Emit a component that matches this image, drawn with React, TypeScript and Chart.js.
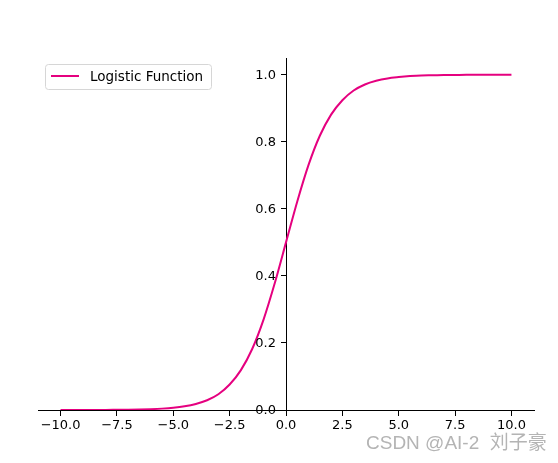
import React, { useEffect, useRef } from "react";
import { Chart, registerables } from "chart.js";

Chart.register(...registerables);

const xValues = [
  -10, -9.5, -9, -8.5, -8, -7.5, -7, -6.5, -6, -5.5, -5, -4.5, -4, -3.5, -3, -2.5, -2, -1.5, -1, -0.5,
  0, 0.5, 1, 1.5, 2, 2.5, 3, 3.5, 4, 4.5, 5, 5.5, 6, 6.5, 7, 7.5, 8, 8.5, 9, 9.5, 10,
];
const yValues = [
  0.0, 0.0001, 0.0001, 0.0002, 0.0003, 0.0006, 0.0009, 0.0015, 0.0025, 0.0041, 0.0067, 0.011, 0.018,
  0.029, 0.047, 0.076, 0.119, 0.182, 0.269, 0.378, 0.5, 0.622, 0.731, 0.818, 0.881, 0.924, 0.953,
  0.971, 0.982, 0.989, 0.993, 0.996, 0.998, 0.9985, 0.9991, 0.9994, 0.9997, 0.9998, 0.9999, 0.9999,
  1.0,
];
const xTickValues = [-10, -7.5, -5, -2.5, 0, 2.5, 5, 7.5, 10];
const yTickValues = [0, 0.2, 0.4, 0.6, 0.8, 1.0];
const seriesLabel = "Logistic Function";
const watermark = "CSDN @AI-2  刘子豪";

const LINE_COLOR = "#e5007f";
const FONT = "'DejaVu Sans', sans-serif";

const fmt = (v: number) => v.toFixed(1).replace("-", "\u2212");

const yLabels = {
  id: "yLabels",
  afterDraw(chart: any) {
    const ctx = chart.ctx;
    const ys = chart.scales.y;
    const xs = chart.scales.x;
    const x0 = xs.getPixelForValue(0) - 5 - 5;
    ctx.save();
    ctx.fillStyle = "#000";
    ctx.font = `13px ${FONT}`;
    ctx.textAlign = "right";
    ctx.textBaseline = "middle";
    ys.ticks.forEach((t: any) => {
      ctx.fillText(fmt(t.value), x0, ys.getPixelForValue(t.value) + 0.5);
    });
    ctx.restore();
  },
};

const boxLegend = {
  id: "boxLegend",
  afterDraw(chart: any) {
    const ctx = chart.ctx;
    const area = chart.chartArea;
    const ds = chart.data.datasets[0];
    const x = area.left + 7.5;
    const y = area.top + 6.5;
    const w = 166;
    const h = 25;
    const r = 3;
    ctx.save();
    ctx.beginPath();
    ctx.moveTo(x + r, y);
    ctx.lineTo(x + w - r, y);
    ctx.arcTo(x + w, y, x + w, y + r, r);
    ctx.lineTo(x + w, y + h - r);
    ctx.arcTo(x + w, y + h, x + w - r, y + h, r);
    ctx.lineTo(x + r, y + h);
    ctx.arcTo(x, y + h, x, y + h - r, r);
    ctx.lineTo(x, y + r);
    ctx.arcTo(x, y, x + r, y, r);
    ctx.closePath();
    ctx.fillStyle = "rgba(255,255,255,0.8)";
    ctx.fill();
    ctx.strokeStyle = "#d6d6d6";
    ctx.lineWidth = 1;
    ctx.stroke();
    ctx.beginPath();
    ctx.moveTo(x + 5.5, y + 11.5);
    ctx.lineTo(x + 33.5, y + 11.5);
    ctx.strokeStyle = ds.borderColor;
    ctx.lineWidth = 2;
    ctx.stroke();
    ctx.fillStyle = "#000";
    ctx.font = `13.5px ${FONT}`;
    ctx.textBaseline = "middle";
    ctx.textAlign = "left";
    ctx.fillText(ds.label, x + 44.5, y + 12.5);
    ctx.restore();
  },
};

export default function App() {
  const ref = useRef<HTMLCanvasElement>(null);
  useEffect(() => {
    if (!ref.current) return;
    const chart = new Chart(ref.current, {
      type: "line",
      data: {
        datasets: [
          {
            label: seriesLabel,
            data: xValues.map((x, i) => ({ x, y: yValues[i] })),
            borderColor: LINE_COLOR,
            backgroundColor: LINE_COLOR,
            borderWidth: 2,
            pointRadius: 0,
            cubicInterpolationMode: "monotone",
            fill: false,
          },
        ],
      },
      options: {
        responsive: false,
        animation: false,
        devicePixelRatio: 1,
        layout: { padding: { left: 38, right: 24, top: 58, bottom: 53 } },
        plugins: {
          legend: { display: false },
          tooltip: { enabled: false },
        },
        scales: {
          x: {
            type: "linear",
            min: -11,
            max: 11,
            position: { y: 0 } as any,
            afterBuildTicks: (s: any) => {
              s.ticks = xTickValues.map((v) => ({ value: v }));
            },
            grid: { drawOnChartArea: false, drawTicks: true, tickLength: 5, tickWidth: 1, tickColor: "#000" },
            border: { display: true, color: "#000", width: 1 },
            ticks: {
              color: "#000",
              font: { family: FONT, size: 13 },
              padding: 3,
              maxRotation: 0,
              autoSkip: false,
              callback: (v: any) => fmt(Number(v)),
            },
          },
          y: {
            type: "linear",
            min: 0,
            max: 1.05,
            position: { x: 0 } as any,
            afterBuildTicks: (s: any) => {
              s.ticks = yTickValues.map((v) => ({ value: v }));
            },
            grid: { drawOnChartArea: false, drawTicks: true, tickLength: 5, tickWidth: 1, tickColor: "#000" },
            border: { display: true, color: "#000", width: 1 },
            ticks: {
              display: false,
              autoSkip: false,
            },
          },
        },
      },
      plugins: [yLabels, boxLegend],
    });
    return () => chart.destroy();
  }, []);

  return (
    <div style={{ position: "fixed", left: 0, top: 0, width: 558, height: 463, background: "#fff" }}>
      <canvas ref={ref} width={558} height={463} style={{ width: 558, height: 463, display: "block" }} />
      <div
        style={{
          position: "absolute",
          left: 366,
          top: 431,
          fontFamily: "'Liberation Sans', 'Noto Sans CJK SC', sans-serif",
          fontSize: 19,
          lineHeight: "24px",
          color: "#b4b4b4",
          whiteSpace: "pre",
          textShadow: "0 0 1px #fff",
        }}
      >
        {watermark}
      </div>
    </div>
  );
}
